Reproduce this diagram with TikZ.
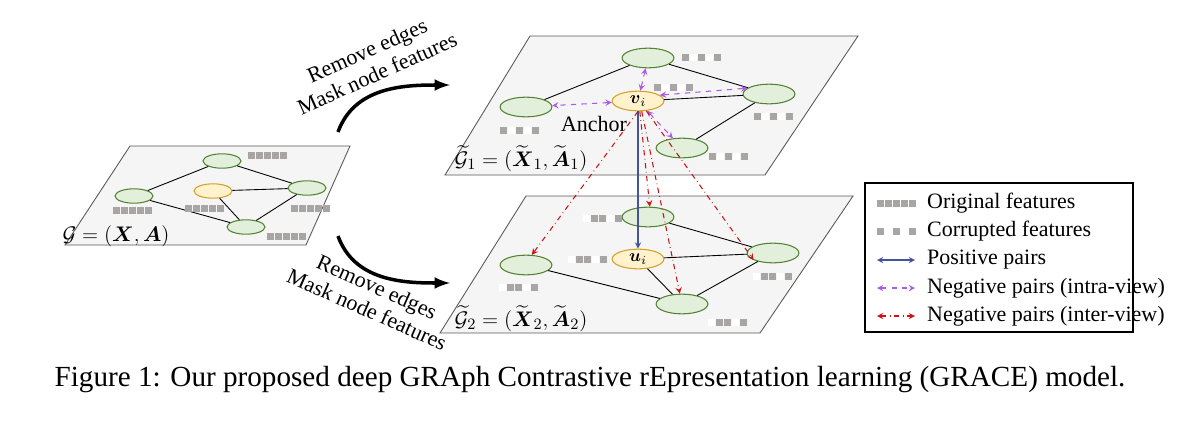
\documentclass[tikz,border=0pt]{standalone}
\usepackage{amsmath}
\usepackage{amssymb}
\usepackage{fontspec}
\setmainfont{Liberation Serif}
\usetikzlibrary{positioning,shapes.geometric,calc}
\definecolor{nodegreen}{RGB}{226,239,218}
\definecolor{nodeborder}{RGB}{84,130,53}
\definecolor{anchorfill}{RGB}{255,242,204}
\definecolor{anchorborder}{RGB}{214,160,40}
\definecolor{planefill}{RGB}{245,245,245}
\definecolor{featgray}{RGB}{170,165,165}
\definecolor{posblue}{RGB}{68,84,150}
\definecolor{negpurple}{RGB}{170,90,230}
\definecolor{negred}{RGB}{200,20,20}
\tikzset{
  plane/.style={draw=gray!70!black, fill=planefill, line width=0.5pt},
  gnode/.style={draw=nodeborder, fill=nodegreen, ellipse, minimum width={#1*0.567pt}, minimum height={0.38*#1*0.567pt}, inner sep=0pt, line width=0.6pt},
  gnode/.default=52,
  anode/.style={gnode=#1, draw=anchorborder, fill=anchorfill},
  anode/.default=52,
  edge/.style={line width=0.5pt},
  intra/.style={<->, >=stealth, negpurple, dashed, line width=0.6pt},
  inter/.style={->, >=stealth, negred, dash dot, line width=0.6pt},
  posarrow/.style={->, >=stealth, posblue, line width=0.6pt},
  aug/.style={-latex, line width=2pt},
  txt/.style={font=\fontsize{12.5}{14}\selectfont},
}
\newcommand{\featbar}[2]{%
  \foreach \c [count=\k] in {#2}
    \fill[\c] ($#1+(\k*8-8,0)$) rectangle +(6.5,6.5);}
\begin{document}
\begin{tikzpicture}[x=0.02cm, y=-0.02cm]
  \useasboundingbox (0,0) rectangle (1181,433);

  % Original graph
  \draw[plane] (130,146) -- (350,146) -- (306,245) -- (65,245) -- cycle;
  \node[gnode=38] (o1) at (222,161) {};
  \node[gnode=38] (o2) at (134,196) {};
  \node[anode=38] (o3) at (213,191) {};
  \node[gnode=38] (o4) at (307,188) {};
  \node[gnode=38] (o5) at (246,227) {};
  \draw[edge] (o2) -- (o1) (o1) -- (o4) (o3) -- (o4) (o3) -- (o5) (o2) -- (o5) (o5) -- (o4);
  \featbar{(248,152)}{featgray,featgray,featgray,featgray,featgray}
  \featbar{(113,207)}{featgray,featgray,featgray,featgray,featgray}
  \featbar{(185,205)}{featgray,featgray,featgray,featgray,featgray}
  \featbar{(291,205)}{featgray,featgray,featgray,featgray,featgray}
  \featbar{(267,233)}{featgray,featgray,featgray,featgray,featgray}
  \node[txt] (glabel) at (116,236) {$\mathcal{G}=(\boldsymbol{X},\boldsymbol{A})$};

  % Augmentations
  \coordinate (up0) at (338,132);
  \coordinate (up1) at (450,85);
  \coordinate (dn0) at (338,236);
  \coordinate (dn1) at (450,283);
  \draw[aug] (up0) to[out=70, in=180] (up1);
  \draw[aug] (dn0) to[out=-70, in=180] (dn1);
  \node[txt, align=center, rotate=24] (augtop) at (372,62) {Remove edges\\Mask node features};
  \node[txt, align=center, rotate=-24] (augbot) at (372,298) {Remove edges\\Mask node features};

  % View 1
  \draw[plane] (530,36) -- (858,36) -- (765,175) -- (445,175) -- cycle;
  \node[gnode] (a1) at (648,58) {};
  \node[gnode] (a2) at (526,107) {};
  \node[anode] (vi) at (638,101) {$\boldsymbol{v}_i$};
  \node[gnode] (a4) at (769,94) {};
  \node[gnode] (a5) at (682,148) {};
  \draw[edge] (a2) -- (a1) (a1) -- (a4) (vi) -- (a4) (a4) -- (a5);
  \draw[intra] (vi) -- (a1);
  \draw[intra] (vi) -- (a2);
  \draw[intra] (vi.15) -- (a4.165);
  \draw[intra] (vi) -- (a5);
  \featbar{(682,54)}{featgray,white,featgray,white,featgray}
  \featbar{(654,84)}{featgray,white,featgray,white,featgray}
  \featbar{(500,127)}{featgray,white,featgray,white,featgray}
  \featbar{(754,113)}{featgray,white,featgray,white,featgray}
  \featbar{(709,153)}{featgray,white,featgray,white,featgray}
  \node[txt] (anchor) at (594,124) {Anchor};
  \node[txt] (g1label) at (521,159) {$\widetilde{\mathcal{G}}_1=(\widetilde{\boldsymbol{X}}_1,\widetilde{\boldsymbol{A}}_1)$};

  % View 2
  \draw[plane] (526,196) -- (853,196) -- (760,333) -- (440,333) -- cycle;
  \node[gnode] (b1) at (648,217) {};
  \node[gnode] (b2) at (526,265) {};
  \node[anode] (ui) at (638,259) {$\boldsymbol{u}_i$};
  \node[gnode] (b4) at (773,253) {};
  \node[gnode] (b5) at (682,304) {};
  \draw[edge] (b1) -- (b4) (ui) -- (b4) (ui) -- (b5) (b2) -- (b5) (b5) -- (b4);
  \featbar{(583,215)}{white,featgray,featgray,white,featgray}
  \featbar{(568,256)}{white,featgray,featgray,white,featgray}
  \featbar{(499,284)}{white,featgray,featgray,white,featgray}
  \featbar{(753,273)}{white,featgray,featgray,white,featgray}
  \featbar{(708,319)}{white,featgray,featgray,white,featgray}
  \node[txt] (g2label) at (521,319) {$\widetilde{\mathcal{G}}_2=(\widetilde{\boldsymbol{X}}_2,\widetilde{\boldsymbol{A}}_2)$};

  % Contrastive pairs
  \draw[posarrow] (vi) -- (ui);
  \draw[inter] (vi.south) -- (b2.60);
  \draw[inter] (vi.-80) -- (b1.80);
  \draw[inter] (vi.-70) -- (b5);
  \draw[inter] (vi.-50) -- (b4.200);

  % Legend
  \draw[line width=0.6pt] (865,183) rectangle (1133,332);
  \featbar{(877,200)}{featgray,featgray,featgray,featgray,featgray}
  \featbar{(877,228)}{featgray,white,featgray,white,featgray}
  \coordinate (p0) at (877,260);  \coordinate (p1) at (915,260);
  \coordinate (q0) at (877,288);  \coordinate (q1) at (915,288);
  \coordinate (r0) at (877,316);  \coordinate (r1) at (915,316);
  \draw[posarrow, <->] (p0) -- (p1);
  \draw[intra] (q0) -- (q1);
  \draw[inter, <->] (r0) -- (r1);
  \node[txt, anchor=west] (lorig) at (921,203) {Original features};
  \node[txt, anchor=west] (lcorr) at (921,231) {Corrupted features};
  \node[txt, anchor=west] (lpos) at (921,260) {Positive pairs};
  \node[txt, anchor=west] (lintra) at (921,288) {Negative pairs (intra-view)};
  \node[txt, anchor=west] (linter) at (921,316) {Negative pairs (inter-view)};

  % Caption
  \node[font=\fontsize{16.6}{20}\selectfont] (caption) at (590,380) {Figure 1: Our proposed deep GRAph Contrastive rEpresentation learning (GRACE) model.};
\end{tikzpicture}
\end{document}
